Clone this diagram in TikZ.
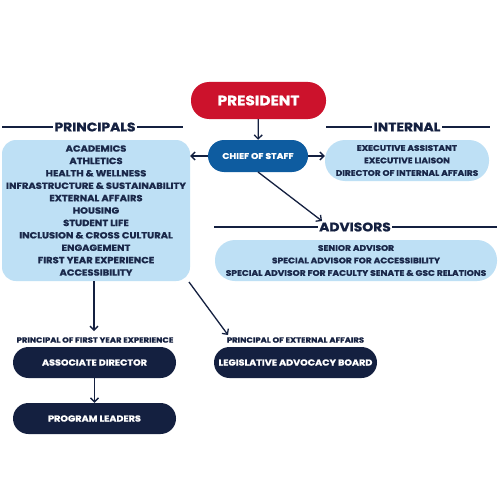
\documentclass[tikz,border=0pt]{standalone}
\usepackage{fontspec}
\setmainfont{Poppins}[FakeStretch=1.12, BoldFeatures={FakeBold=1.2}]
\usetikzlibrary{arrows.meta}
\definecolor{pred}{RGB}{204,18,44}
\definecolor{pblue}{RGB}{14,92,160}
\definecolor{plight}{RGB}{190,224,245}
\definecolor{pnavy}{RGB}{20,32,64}
\definecolor{ptext}{RGB}{26,40,74}
\begin{document}
\begin{tikzpicture}[x=1pt,y=-1pt,
  conn/.style={draw=pnavy, line width=1.3pt, -{Straight Barb[length=4pt,width=8pt,line width=1.3pt]}},
  hline/.style={draw=pnavy, line width=1.3pt},
  header/.style={fill=white, inner sep=1.5pt, text=pnavy, font=\fontsize{12.4}{13}\selectfont\bfseries},
  lightbox/.style={fill=plight, text=ptext, align=center, inner sep=0pt},
  navybox/.style={fill=pnavy, text=white, minimum width=163pt, minimum height=31pt, rounded corners=15.5pt, inner sep=0pt, font=\fontsize{8.6}{9}\selectfont\bfseries},
  smalllabel/.style={text=pnavy, inner sep=0pt, font=\fontsize{7.5}{8}\selectfont\bfseries}]
\useasboundingbox[fill=white] (0,0) rectangle (500,500);

% President and chief of staff
\node[fill=pred, text=white, minimum width=135pt, minimum height=37pt, rounded corners=18pt, inner sep=0pt, font=\fontsize{13.7}{14}\selectfont\bfseries] (pres) at (258.5,100.5) {PRESIDENT};
\node[fill=pblue, text=white, minimum width=100pt, minimum height=32pt, rounded corners=16pt, inner sep=0pt, font=\fontsize{8.3}{9}\selectfont\bfseries] (cos) at (258,156) {CHIEF OF STAFF};

% Principals
\node[lightbox, minimum width=188pt, minimum height=141pt, rounded corners=14pt, font=\fontsize{8.9}{12.4}\selectfont\bfseries] (prin) at (96,210.5) {ACADEMICS\\ATHLETICS\\HEALTH \& WELLNESS\\INFRASTRUCTURE \& SUSTAINABILITY\\EXTERNAL AFFAIRS\\HOUSING\\STUDENT LIFE\\INCLUSION \& CROSS CULTURAL\\ENGAGEMENT\\FIRST YEAR EXPERIENCE\\ACCESSIBILITY};
\coordinate (prinL) at (2,127);
\coordinate (prinR) at (183,127);
\draw[hline] (prinL) -- (prinR);
\node[header] (prinH) at (95,127) {PRINCIPALS};

% Internal
\node[lightbox, minimum width=164pt, minimum height=41pt, rounded corners=20pt, font=\fontsize{8.0}{12.5}\selectfont\bfseries] (int) at (407,160.5) {EXECUTIVE ASSISTANT\\EXECUTIVE LIAISON\\DIRECTOR OF INTERNAL AFFAIRS};
\coordinate (intL) at (326,127);
\coordinate (intR) at (490,127);
\draw[hline] (intL) -- (intR);
\node[header] (intH) at (407,127) {INTERNAL};

% Advisors
\node[lightbox, minimum width=282pt, minimum height=41pt, rounded corners=20pt, font=\fontsize{8.1}{12.5}\selectfont\bfseries] (adv) at (356,260.5) {SENIOR ADVISOR\\SPECIAL ADVISOR FOR ACCESSIBILITY\\SPECIAL ADVISOR FOR FACULTY SENATE \& GSC RELATIONS};
\coordinate (advL) at (214,227);
\coordinate (advR) at (497,227);
\draw[hline] (advL) -- (advR);
\node[header] (advH) at (355,227) {ADVISORS};

% Lower boxes
\node[smalllabel] (lblFY) at (95,340) {PRINCIPAL OF FIRST YEAR EXPERIENCE};
\node[navybox] (assoc) at (94.5,362.5) {ASSOCIATE DIRECTOR};
\node[navybox] (prog) at (94.5,418.5) {PROGRAM LEADERS};
\node[smalllabel] (lblEA) at (295.5,340) {PRINCIPAL OF EXTERNAL AFFAIRS};
\node[navybox] (leg) at (295.5,362.5) {LEGISLATIVE ADVOCACY BOARD};

% Connectors
\coordinate (cosS) at (258,172);
\coordinate (advArr) at (322,221);
\coordinate (prinBR) at (189,282);
\coordinate (eaArr) at (228,335);
\coordinate (prinB) at (94,281);
\coordinate (fyArr) at (94,331);
\draw[conn] (pres) -- (cos);
\draw[conn] (cos) -- (prin.east |- cos);
\draw[conn] (cos) -- (int.west |- cos);
\draw[conn] (cosS) -- (advArr);
\draw[conn] (prinB) -- (fyArr);
\draw[conn] (prinBR) -- (eaArr);
\draw[conn] (assoc) -- (prog);
\end{tikzpicture}
\end{document}
